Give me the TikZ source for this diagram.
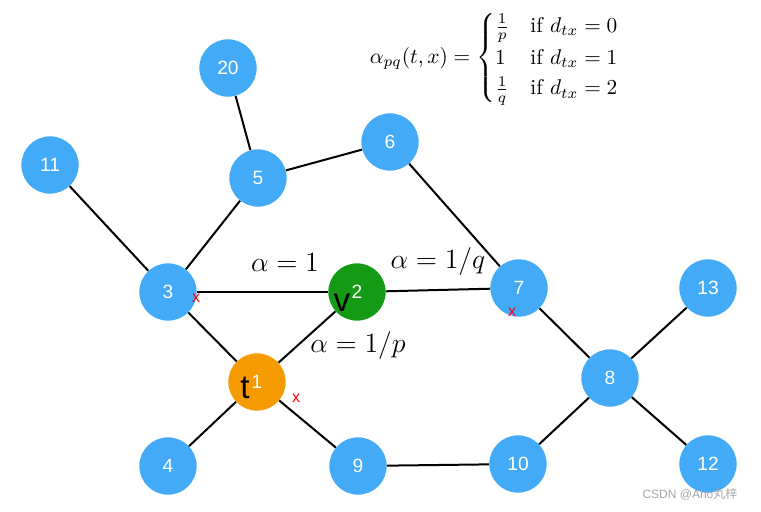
\documentclass[tikz,border=0pt]{standalone}
\usepackage{amsmath}
\usepackage{fontspec}
\setsansfont{Liberation Sans}
\newfontfamily\cjk{Noto Sans CJK SC}
\definecolor{nb}{HTML}{42AAF7}
\definecolor{ng}{HTML}{149A14}
\definecolor{no}{HTML}{F59A00}
\begin{document}
\begin{tikzpicture}[x=0.75pt,y=-0.75pt,
  nd/.style={circle,fill=nb,minimum size=43pt,inner sep=0pt,text=white,font=\sffamily\Large},
  ed/.style={line width=1.5pt,black},
  el/.style={scale=1.45,font=\Large},
  xm/.style={text=red,font=\sffamily\large}]
\useasboundingbox (0,0) rectangle (761,511);
\node[nd] (n20) at (228,68) {20};
\node[nd] (n11) at (50,165) {11};
\node[nd] (n5) at (258,178) {5};
\node[nd] (n6) at (390,142) {6};
\node[nd] (n3) at (168,292) {3};
\node[nd,fill=ng] (n2) at (357,292) {2};
\node[nd] (n7) at (519,288) {7};
\node[nd] (n13) at (708,288) {13};
\node[nd,fill=no] (n1) at (257,382) {1};
\node[nd] (n8) at (610,378) {8};
\node[nd] (n4) at (168,466) {4};
\node[nd] (n9) at (358,466) {9};
\node[nd] (n10) at (518,464) {10};
\node[nd] (n12) at (708,464) {12};
\foreach \a/\b in {n20/n5,n11/n3,n5/n3,n5/n6,n6/n7,n3/n2,n2/n7,n3/n1,n1/n2,n1/n4,n1/n9,n9/n10,n10/n8,n7/n8,n8/n13,n8/n12}
  \draw[ed] (\a) -- (\b);
\node[el] (la) at (285,263) {$\alpha=1$};
\node[el] (lq) at (438,262) {$\alpha=1/q$};
\node[el] (lp) at (358,346) {$\alpha=1/p$};
\node[xm] (x1) at (196,298) {x};
\node[xm] (x2) at (512,312) {x};
\node[xm] (x3) at (296,398) {x};
\node[font=\sffamily\Huge] (v) at (342,303) {v};
\node[font=\sffamily\Huge] (t) at (245,388) {t};
\node[scale=1.6] (f) at (495,58) {$\alpha_{pq}(t,x)=\begin{cases}\frac{1}{p} & \text{if } d_{tx}=0\\ 1 & \text{if } d_{tx}=1\\ \frac{1}{q} & \text{if } d_{tx}=2\end{cases}$};
\node[text=gray!70,font=\sffamily\small] (w) at (690,494) {CSDN @Aho{\cjk 丸梓}};
\end{tikzpicture}
\end{document}
